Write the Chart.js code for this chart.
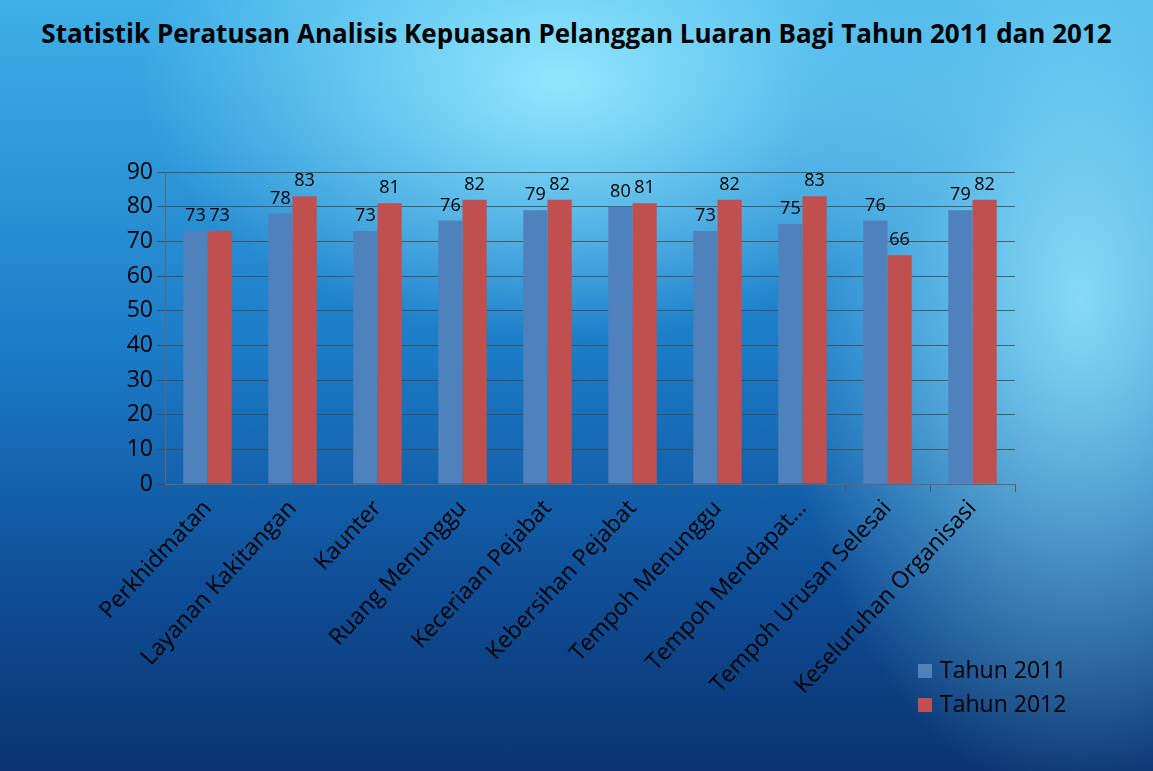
<!DOCTYPE html>
<html><head><meta charset="utf-8">
<script src="https://cdn.jsdelivr.net/npm/chart.js@4.4.0/dist/chart.umd.min.js"></script>
<style>
html,body{margin:0;padding:0;width:1153px;height:771px;overflow:hidden;font-family:"Open Sans",sans-serif;}
body{background:
 radial-gradient(ellipse 420px 260px at 560px 80px, rgba(150,235,255,0.95), rgba(80,190,240,0) 100%),
 radial-gradient(ellipse 300px 500px at 1080px 300px, rgba(160,240,255,0.8), rgba(60,160,230,0) 100%),
 linear-gradient(180deg,#3fb0e8 0%,#1b7cc8 45%,#0f4f98 75%,#0a3470 100%);}
#title{position:absolute;top:15px;left:0;width:1153px;text-align:center;font-weight:bold;font-size:26px;color:#000;white-space:nowrap;}
#wrap{position:absolute;left:0;top:150px;width:1153px;height:621px;}
#legend{position:absolute;left:918px;top:652px;font-size:23px;color:#000;line-height:34px;}
#legend span.sw{display:inline-block;width:14px;height:14px;margin-right:8px;}
</style></head><body>
<div id="title">Statistik Peratusan Analisis Kepuasan Pelanggan Luaran Bagi Tahun 2011 dan 2012</div>
<div id="wrap"><canvas id="c" width="1153" height="621"></canvas></div>
<div id="legend">
<div><span class="sw" style="background:#4F81BD"></span>Tahun 2011</div>
<div><span class="sw" style="background:#C0504D"></span>Tahun 2012</div>
</div>
<script>
const categories = ['Perkhidmatan','Layanan Kakitangan','Kaunter','Ruang Menunggu','Keceriaan Pejabat','Kebersihan Pejabat','Tempoh Menunggu','Tempoh Mendapat…','Tempoh Urusan Selesai','Keseluruhan Organisasi'];
const tahun2011 = [73,78,73,76,79,80,73,75,76,79];
const tahun2012 = [73,83,81,82,82,81,82,83,66,82];
const yTicks = [0,10,20,30,40,50,60,70,80,90];

const valueLabels = {
  id:'valueLabels',
  afterDatasetsDraw(chart){
    const ctx = chart.ctx;
    ctx.save();
    ctx.font = '18px "Open Sans"';
    ctx.fillStyle = '#000';
    ctx.textAlign = 'center';
    ctx.textBaseline = 'bottom';
    chart.data.datasets.forEach((ds,i)=>{
      chart.getDatasetMeta(i).data.forEach((bar,j)=>{
        ctx.fillText(ds.data[j], bar.x, bar.y - 6);
      });
    });
    ctx.restore();
  }
};

new Chart(document.getElementById('c'),{
  type:'bar',
  data:{labels:categories,datasets:[
    {label:'Tahun 2011',data:tahun2011,backgroundColor:'#4F81BD',categoryPercentage:0.57,barPercentage:1},
    {label:'Tahun 2012',data:tahun2012,backgroundColor:'#C0504D',categoryPercentage:0.57,barPercentage:1}
  ]},
  options:{
    responsive:false,animation:false,devicePixelRatio:1,
    layout:{padding:{top:22,left:92,right:138,bottom:0}},
    plugins:{legend:{display:false},tooltip:{enabled:false}},
    scales:{
      x:{
        grid:{offset:true,drawOnChartArea:false,color:'#555',tickLength:8},
        border:{color:'#666'},
        ticks:{color:'#000',font:{family:'Open Sans',size:23},minRotation:47,maxRotation:47,autoSkip:false},
        afterFit(s){s.height=287;}
      },
      y:{
        min:0,max:90,
        afterBuildTicks(s){s.ticks=yTicks.map(v=>({value:v}));},
        grid:{color:'rgba(70,70,70,0.8)',tickLength:8},
        border:{color:'#666'},
        ticks:{color:'#000',font:{family:'Open Sans',size:23},padding:4},
        afterFit(s){s.width=73;}
      }
    }
  },
  plugins:[valueLabels]
});
</script>
</body></html>
